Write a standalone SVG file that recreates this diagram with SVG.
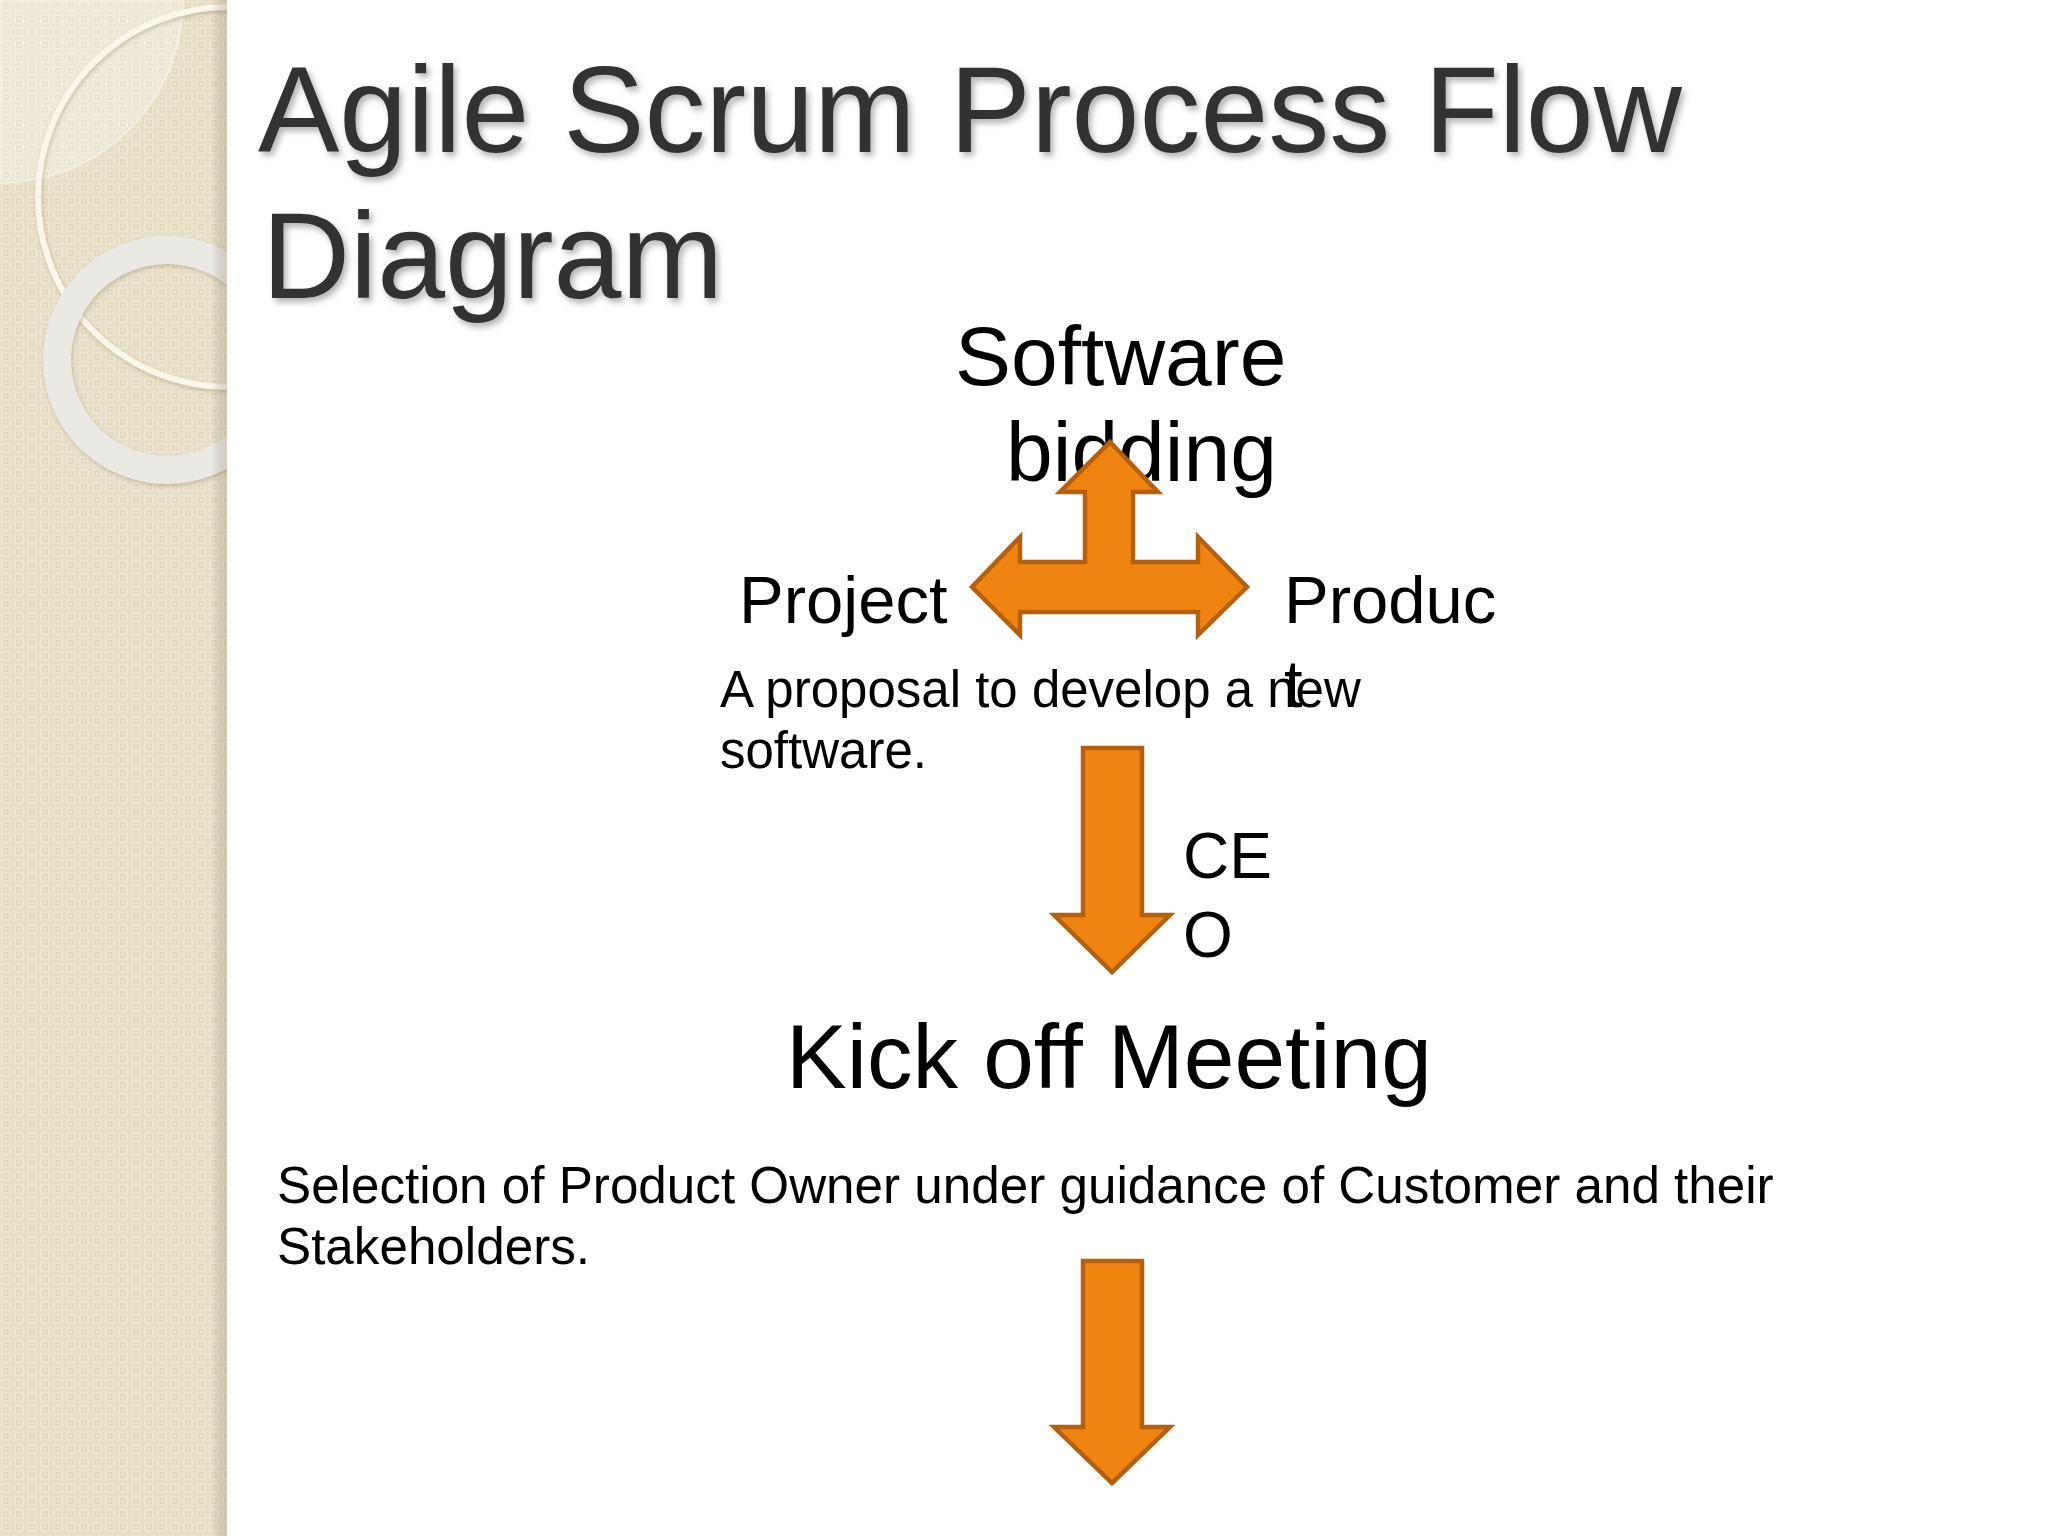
<svg xmlns="http://www.w3.org/2000/svg" width="2048" height="1536" viewBox="0 0 2048 1536">
<defs>
<style>
.t{font-family:"Liberation Sans",Arial,sans-serif;fill:#000}
.title{font-family:"Liberation Sans",Arial,sans-serif;fill:#333333;font-size:122px}
.arrow{fill:#ef8410;stroke:#b5600f;stroke-width:4.5;stroke-linejoin:miter}
</style>
<pattern id="tex" width="13" height="13" patternUnits="userSpaceOnUse">
<rect width="13" height="13" fill="#e6dec6"/>
<rect x="1" y="1" width="10" height="10" fill="#ece5d0"/>
<rect x="3" y="3" width="6" height="6" fill="#e2d9bf"/>
<rect x="5" y="5" width="2" height="2" fill="#ede6d2"/>
</pattern>
<linearGradient id="edge" x1="0" y1="0" x2="1" y2="0">
<stop offset="0" stop-color="#000" stop-opacity="0"/>
<stop offset="1" stop-color="#8a7f60" stop-opacity="0.25"/>
</linearGradient>
<clipPath id="band"><rect x="0" y="0" width="227" height="1536"/></clipPath>
<filter id="sh" x="-10%" y="-10%" width="120%" height="130%">
<feDropShadow dx="3" dy="4" stdDeviation="3" flood-color="#000" flood-opacity="0.3"/>
</filter>
<filter id="rs" x="-20%" y="-20%" width="140%" height="140%">
<feDropShadow dx="1" dy="2" stdDeviation="2" flood-color="#8a7f60" flood-opacity="0.4"/>
</filter>
</defs>
<rect width="2048" height="1536" fill="#ffffff"/>
<g id="sidebar">
<rect x="0" y="0" width="227" height="1536" fill="url(#tex)"/>
<g clip-path="url(#band)">
<path d="M0 0 H183 A183 183 0 0 1 0 183 Z" fill="#ffffff" fill-opacity="0.3" stroke="#f7f2e4" stroke-width="1.5"/>
<circle cx="228" cy="197" r="190" fill="none" stroke="#faf6ea" stroke-width="6" filter="url(#rs)"/>
<circle cx="167" cy="360" r="110" fill="none" stroke="#ebe9e4" stroke-width="28" filter="url(#rs)"/>
</g>
<rect x="212" y="0" width="15" height="1536" fill="url(#edge)"/>
</g>
<g id="title" filter="url(#sh)">
<text class="title" x="258" y="152">Agile Scrum Process Flow</text>
<text class="title" x="262" y="298">Diagram</text>
</g>
<g id="software-bidding">
<text class="t" font-size="84" x="955" y="385">Software</text>
<text class="t" font-size="84" x="1006" y="481">bidding</text>
</g>
<g id="project"><text class="t" font-size="67" x="739" y="623">Project</text></g>
<g id="product">
<text class="t" font-size="67" x="1284" y="623">Produc</text>
<text class="t" font-size="67" x="1284" y="707">t</text>
</g>
<g id="proposal">
<text class="t" font-size="51" x="720" y="707">A proposal to develop a new</text>
<text class="t" font-size="51" x="720" y="768">software.</text>
</g>
<g id="ceo">
<text class="t" font-size="64" x="1183" y="878">CE</text>
<text class="t" font-size="64" x="1183" y="957">O</text>
</g>
<g id="kickoff"><text class="t" font-size="91" x="786" y="1088">Kick off Meeting</text></g>
<g id="selection">
<text class="t" font-size="51.2" x="277" y="1203">Selection of Product Owner under guidance of Customer and their</text>
<text class="t" font-size="51.2" x="277" y="1264">Stakeholders.</text>
</g>
<g id="connectors">
<polygon class="arrow" points="1110,442 1158,492 1133,492 1133,562 1198,562 1198,537 1247,587 1198,635 1198,612 1020,612 1020,635 972,587 1020,537 1020,562 1085,562 1085,492 1060,492"/>
<polygon class="arrow" points="1083,748 1142,748 1142,915 1170,915 1112,972 1054,915 1083,915"/>
<polygon class="arrow" points="1083,1261 1142,1261 1142,1427 1170,1427 1112,1483 1054,1427 1083,1427"/>
</g>
</svg>
